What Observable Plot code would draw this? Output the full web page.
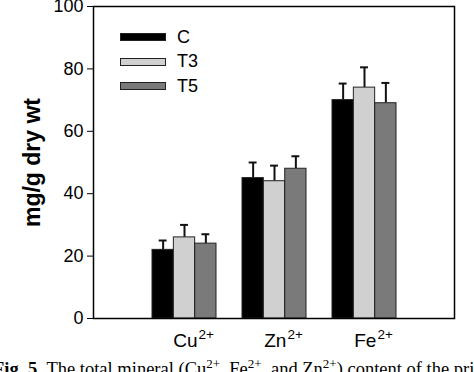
<!DOCTYPE html>
<html>
<head>
<meta charset="utf-8">
<script src="https://cdn.jsdelivr.net/npm/d3@7"></script>
<script src="https://cdn.jsdelivr.net/npm/@observablehq/plot@0.6"></script>
<style>
  html, body { margin: 0; padding: 0; background: #fff; }
  body { width: 474px; height: 372px; overflow: hidden; position: relative; }
  #chart svg { display: block; }
  g[aria-label="y-axis label"] text, g[aria-label="y-axis label"] { font-size: 23px; font-weight: bold; }
  g[aria-label="x-axis tick label"] text, g[aria-label="x-axis tick label"] { font-size: 19px; }
  #legend { position: absolute; left: 120px; top: 25px; font-family: "Liberation Sans", Arial, sans-serif; font-size: 18px; color: #000; }
  #legend .row { display: flex; align-items: center; height: 24.5px; }
  #legend .sw { width: 44px; height: 6px; border: 1px solid #222; margin-right: 11px; }
  #caption { font-family: "Liberation Serif", "Times New Roman", serif; font-size: 18.5px; line-height: 20px; white-space: nowrap; margin-left: -7px; margin-top: 7px; color: #000; }
  #caption sup { font-size: 13px; vertical-align: 7px; line-height: 0; }
</style>
</head>
<body>
<div id="chart"></div>
<div id="legend"></div>
<div id="caption"><b>Fig. 5</b>&nbsp;&nbsp;The total mineral (Cu<sup>2+</sup>, Fe<sup>2+</sup>, and Zn<sup>2+</sup>) content of the primary cultures</div>
<script>
const ions = ["Cu", "Zn", "Fe"];
const charges = ["2+", "2+", "2+"];
const series = ["C", "T3", "T5"];
const cValues = [22, 45, 70];
const t3Values = [26, 44, 74];
const t5Values = [24, 48, 69];
const cErrors = [3, 5, 5.3];
const t3Errors = [4, 5, 6.5];
const t5Errors = [3, 4, 6.5];
const colors = ["#000000", "#d0d0d0", "#7a7a7a"];
const yTicks = [0, 20, 40, 60, 80, 100];
const yLabel = "mg/g dry wt";

const valuesBySeries = [cValues, t3Values, t5Values];
const errorsBySeries = [cErrors, t3Errors, t5Errors];

// layout
const W = 474, H = 352, mT = 6, mB = 34, mL = 93, mR = 20;
const padInner = 0.29, padOuter = 0.645;
const step = (W - mL - mR) / (ions.length - padInner + 2 * padOuter);
const bw = step * (1 - padInner);
const barW = bw / series.length;
const capW = 8;

const seriesMarks = series.flatMap((s, j) => {
  const rows = ions.map((ion, i) => ({ion, series: s, value: valuesBySeries[j][i], err: errorsBySeries[j][i]}));
  const left = j * barW, right = bw - (j + 1) * barW;
  const center = (j + 0.5) * barW;
  return [
    Plot.ruleX(rows, {x: "ion", y1: "value", y2: d => d.value + d.err, dx: center - bw / 2, stroke: "#111", strokeWidth: 2}),
    Plot.tickY(rows, {x: "ion", y: d => d.value + d.err, stroke: "#111", strokeWidth: 2, insetLeft: center - capW / 2, insetRight: bw - center - capW / 2}),
    Plot.barY(rows, {x: "ion", y: "value", fill: "series", stroke: "#222", strokeWidth: 1, insetLeft: left, insetRight: right})
  ];
});

const chart = Plot.plot({
  width: W,
  height: H,
  marginTop: mT,
  marginBottom: mB,
  marginLeft: mL,
  marginRight: mR,
  style: {fontFamily: "'Liberation Sans', Arial, sans-serif", fontSize: "18px", color: "#000", background: "#fff", overflow: "visible"},
  x: {domain: ions, paddingInner: padInner, paddingOuter: padOuter, label: null},
  y: {domain: [0, 100], label: null},
  color: {domain: series, range: colors},
  marks: [
    ...seriesMarks,
    Plot.frame({stroke: "#000", strokeWidth: 1.5}),
    Plot.axisY({ticks: yTicks, tickSize: 6, tickPadding: 4, stroke: "#000", label: yLabel, labelAnchor: "center", labelOffset: 70, labelArrow: "none"}),
    Plot.axisX({tickSize: 0, tickPadding: 15, label: null, dx: 9})
  ]
});
document.getElementById("chart").appendChild(chart);

// superscript charges on the ion labels
chart.querySelectorAll("text").forEach(t => {
  const i = ions.indexOf(t.textContent);
  if (i >= 0 && t.childElementCount === 0) {
    const ts = document.createElementNS("http://www.w3.org/2000/svg", "tspan");
    ts.setAttribute("font-size", "13.5");
    ts.setAttribute("dy", "-8");
    ts.setAttribute("dx", "1");
    ts.textContent = charges[i];
    t.appendChild(ts);
  }
});

// legend
const legend = document.getElementById("legend");
series.forEach((s, j) => {
  const row = document.createElement("div");
  row.className = "row";
  const sw = document.createElement("div");
  sw.className = "sw";
  sw.style.background = colors[j];
  const lab = document.createElement("span");
  lab.textContent = s;
  row.appendChild(sw);
  row.appendChild(lab);
  legend.appendChild(row);
});
</script>
</body>
</html>
